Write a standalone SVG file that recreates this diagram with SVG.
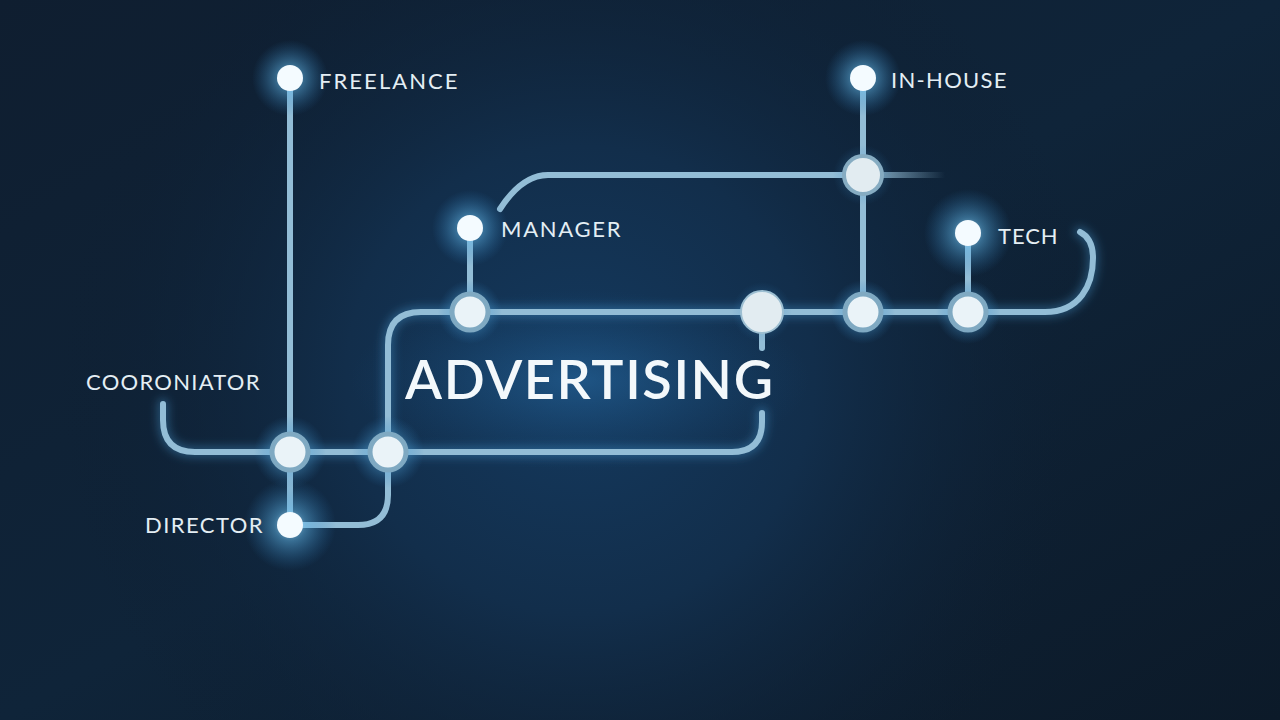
<svg xmlns="http://www.w3.org/2000/svg" width="1280" height="720" viewBox="0 0 1280 720">
  <defs>
    <radialGradient id="bgGlow" cx="580" cy="380" r="520" gradientUnits="userSpaceOnUse">
      <stop offset="0" stop-color="#14395e"/>
      <stop offset="0.45" stop-color="#122e4b"/>
      <stop offset="1" stop-color="#0e1e31" stop-opacity="0"/>
    </radialGradient>
    <linearGradient id="bgBase" x1="0" y1="0" x2="1" y2="1">
      <stop offset="0" stop-color="#0f1e30"/>
      <stop offset="0.5" stop-color="#0f2439"/>
      <stop offset="1" stop-color="#0c1a29"/>
    </linearGradient>
    <radialGradient id="nodeGlow">
      <stop offset="0" stop-color="#c8ebff" stop-opacity="0.9"/>
      <stop offset="0.35" stop-color="#5fb4e6" stop-opacity="0.5"/>
      <stop offset="1" stop-color="#2a79b8" stop-opacity="0"/>
    </radialGradient>
    <radialGradient id="textGlow">
      <stop offset="0" stop-color="#2f7fc0" stop-opacity="0.4"/>
      <stop offset="1" stop-color="#1c5a90" stop-opacity="0"/>
    </radialGradient>
    <linearGradient id="fadeLine" x1="863" y1="0" x2="945" y2="0" gradientUnits="userSpaceOnUse">
      <stop offset="0" stop-color="#8fb8d0"/>
      <stop offset="1" stop-color="#8fb8d0" stop-opacity="0"/>
    </linearGradient>
    <filter id="blur" x="-50%" y="-50%" width="200%" height="200%">
      <feGaussianBlur stdDeviation="4"/>
    </filter>
  </defs>
  <style>
    .wire { fill: none; stroke: #93bdd6; stroke-width: 6; stroke-linecap: round; stroke-linejoin: round; }
    .wireGlow { fill: none; stroke: #4a9fd8; stroke-width: 12; stroke-opacity: 0.35; stroke-linecap: round; }
    .dot { fill: #f4fbff; }
    .junction { fill: #eaf3f8; stroke: #7fa9c2; stroke-width: 5; }
    .label { font-family: Lato, "Liberation Sans", sans-serif; font-size: 22px; fill: #e4eef4; letter-spacing: 0.5px; }
    .title { font-family: Lato, "Liberation Sans", sans-serif; font-size: 54px; font-weight: 600; fill: #f3f8fb; }
  </style>

  <rect width="1280" height="720" fill="url(#bgBase)"/>
  <rect width="1280" height="720" fill="url(#bgGlow)"/>
  <ellipse cx="580" cy="380" rx="230" ry="90" fill="url(#textGlow)"/>

  <g id="connectors">
    <g filter="url(#blur)">
      <path class="wireGlow" d="M388,452 V345 Q388,312 421,312 H1045 C1080,312 1093,285 1093,258 C1093,244 1088,236 1080,232"/>
      <path class="wireGlow" d="M163,404 V420 Q163,452 195,452 H732 Q762,452 762,422 V413"/>
    </g>
    <path class="wire" d="M290,78 V525"/>
    <path class="wire" d="M163,404 V420 Q163,452 195,452 H732 Q762,452 762,422 V413"/>
    <path class="wire" d="M290,525 H358 Q388,525 388,495 V452"/>
    <path class="wire" d="M388,452 V345 Q388,312 421,312 H1045 C1080,312 1093,285 1093,258 C1093,244 1088,236 1080,232"/>
    <path class="wire" d="M470,228 V312"/>
    <path class="wire" d="M762,312 V348"/>
    <path class="wire" d="M500,209 Q522,175 548,175 H863"/>
    <path d="M863,175 H945" fill="none" stroke="url(#fadeLine)" stroke-width="6"/>
    <path class="wire" d="M863,78 V312"/>
    <path class="wire" d="M968,233 V312"/>
  </g>

  <g id="node-freelance">
    <circle cx="290" cy="78" r="38" fill="url(#nodeGlow)"/>
    <circle class="dot" cx="290" cy="78" r="13"/>
    <text class="label" x="319" y="89" textLength="139">FREELANCE</text>
  </g>
  <g id="node-manager">
    <circle cx="470" cy="228" r="38" fill="url(#nodeGlow)"/>
    <circle class="dot" cx="470" cy="228" r="13"/>
    <text class="label" x="501" y="237" textLength="120">MANAGER</text>
  </g>
  <g id="node-inhouse">
    <circle cx="863" cy="78" r="38" fill="url(#nodeGlow)"/>
    <circle class="dot" cx="863" cy="78" r="13"/>
    <text class="label" x="891" y="88" textLength="116">IN-HOUSE</text>
  </g>
  <g id="node-tech">
    <circle cx="968" cy="233" r="44" fill="url(#nodeGlow)"/>
    <circle class="dot" cx="968" cy="233" r="13"/>
    <text class="label" x="998" y="244" textLength="60">TECH</text>
  </g>
  <g id="node-coordinator">
    <text class="label" x="86" y="390" textLength="174">COORONIATOR</text>
  </g>
  <g id="node-director">
    <circle cx="290" cy="525" r="46" fill="url(#nodeGlow)"/>
    <circle class="dot" cx="290" cy="525" r="13"/>
    <text class="label" x="145" y="533" textLength="118">DIRECTOR</text>
  </g>
  <g id="node-advertising">
    <text class="title" x="405" y="399" textLength="368">ADVERTISING</text>
  </g>

  <g id="junctions">
    <circle cx="290" cy="452" r="36" fill="url(#nodeGlow)"/>
    <circle class="junction" cx="290" cy="452" r="18"/>
    <circle cx="388" cy="452" r="36" fill="url(#nodeGlow)"/>
    <circle class="junction" cx="388" cy="452" r="18"/>
    <circle cx="470" cy="312" r="32" fill="url(#nodeGlow)"/>
    <circle class="junction" cx="470" cy="312" r="18"/>
    <circle cx="762" cy="312" r="30" fill="url(#nodeGlow)" opacity="0.6"/>
    <circle cx="762" cy="312" r="21" fill="#e2ecf1" stroke="#9dbfd2" stroke-width="2"/>
    <circle cx="863" cy="312" r="32" fill="url(#nodeGlow)"/>
    <circle class="junction" cx="863" cy="312" r="18"/>
    <circle cx="863" cy="175" r="30" fill="url(#nodeGlow)" opacity="0.6"/>
    <circle cx="863" cy="175" r="19" fill="#e2ecf1" stroke="#86acc2" stroke-width="4"/>
    <circle cx="968" cy="312" r="32" fill="url(#nodeGlow)"/>
    <circle class="junction" cx="968" cy="312" r="18"/>
  </g>
</svg>
